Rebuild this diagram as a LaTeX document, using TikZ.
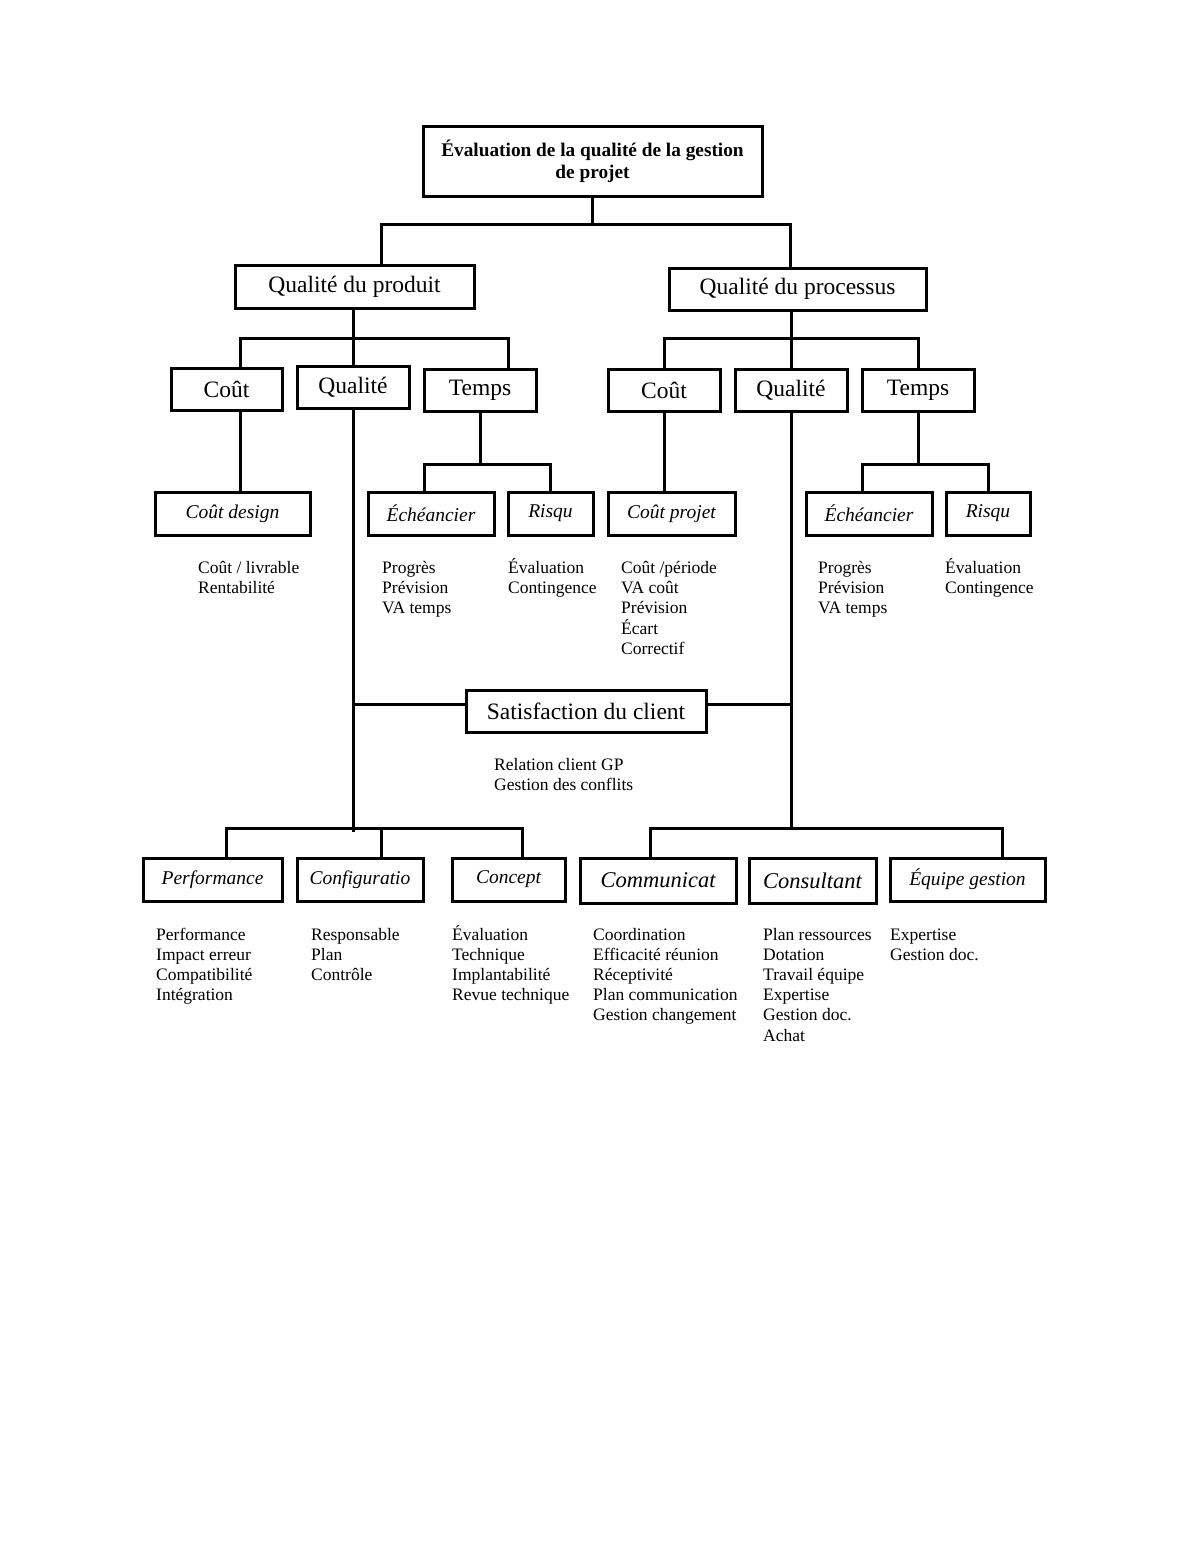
\documentclass[tikz,border=0pt]{standalone}
\usepackage{fontspec}
\setmainfont{Liberation Serif}
\newcommand{\lstlines}[1]{\begin{tabular}[t]{@{}l@{}}#1\end{tabular}}
\begin{document}
\begin{tikzpicture}[x=1pt,y=-1pt,
  box/.style={draw,line width=3pt,rectangle,inner sep=0pt,align=center,font=\fontsize{23.5}{27}\selectfont},
  ibox/.style={box,font=\fontsize{19.5}{23}\selectfont\itshape},
  bibox/.style={box,font=\fontsize{22.5}{26}\selectfont\itshape},
  tbox/.style={box,font=\fontsize{19.3}{22}\selectfont\bfseries},
  lst/.style={anchor=base west,inner sep=0pt,font=\fontsize{17.5}{20.2}\selectfont},
  conn/.style={line width=3pt}]
\useasboundingbox (0,0) rectangle (1200,1553);
% boxes
\node[tbox,minimum width=339pt,minimum height=70pt] (title) at (592.5,161) {Évaluation de la qualité de la gestion\\de projet};
\node[box,minimum width=239pt,minimum height=43pt] (qprod) at (354.5,286.5) {Qualité du produit};
\node[box,minimum width=257pt,minimum height=42pt] (qproc) at (797.5,289) {Qualité du processus};
\node[box,minimum width=111pt,minimum height=42pt] (coutL) at (226.5,389) {Coût};
\node[box,minimum width=112pt,minimum height=42pt] (qualL) at (353,387) {Qualité};
\node[box,minimum width=112pt,minimum height=42pt] (tempsL) at (480,390) {Temps};
\node[box,minimum width=112pt,minimum height=42pt] (coutR) at (664,390) {Coût};
\node[box,minimum width=112pt,minimum height=42pt] (qualR) at (791,390) {Qualité};
\node[box,minimum width=112pt,minimum height=42pt] (tempsR) at (918,390) {Temps};
\node[ibox,minimum width=155pt,minimum height=43pt] (coutdesign) at (232.5,513.5) {Coût design};
\node[ibox,minimum width=126pt,minimum height=43pt] (echL) at (431,513.5) {Échéancier};
\node[ibox,minimum width=85pt,minimum height=43pt] (risqL) at (550.5,513.5) {Risqu};
\node[ibox,minimum width=127pt,minimum height=43pt] (coutprojet) at (671.5,513.5) {Coût projet};
\node[ibox,minimum width=126pt,minimum height=43pt] (echR) at (869,513.5) {Échéancier};
\node[ibox,minimum width=84pt,minimum height=43pt] (risqR) at (988,513.5) {Risqu};
\node[box,minimum width=240pt,minimum height=42pt] (satis) at (586,711) {Satisfaction du client};
\node[ibox,minimum width=139pt,minimum height=43pt] (perf) at (212.5,879.5) {Performance};
\node[ibox,minimum width=126pt,minimum height=43pt] (config) at (360,879.5) {Configuratio};
\node[ibox,minimum width=113pt,minimum height=43pt] (concept) at (508.5,879.5) {Concept};
\node[bibox,minimum width=156pt,minimum height=45pt] (comm) at (658,880.5) {Communicat};
\node[bibox,minimum width=127pt,minimum height=45pt] (consult) at (812.5,880.5) {Consultant};
\node[ibox,minimum width=155pt,minimum height=43pt] (equipe) at (967.5,879.5) {Équipe gestion};
% junction coordinates
\coordinate (h1L) at (381,224);
\coordinate (h1R) at (790,224);
\coordinate (b2L) at (240,338);
\coordinate (e2L) at (508,338);
\coordinate (r2) at (0,338);
\coordinate (t1) at (424,464);
\coordinate (t2) at (550,464);
\coordinate (s1) at (862,464);
\coordinate (s2) at (988,464);
\coordinate (sy) at (0,704);
\coordinate (qLend) at (0,832);
\coordinate (qRend) at (0,828);
\coordinate (bl1) at (226,828);
\coordinate (bl2) at (381,828);
\coordinate (bl3) at (522,828);
\coordinate (br1) at (650,828);
\coordinate (br2) at (1002,828);
% connectors
\draw[conn] (title.south) -- (title.south |- h1L);
\draw[conn] (qprod.north -| h1L) |- (h1R) -- (qproc.north -| h1R);
\draw[conn] (coutL.north -| b2L) |- (e2L) -- (tempsL.north -| e2L);
\draw[conn] (qualL.north) -- (qualL.north |- qprod.south);
\draw[conn] (coutR.north) |- (tempsR.north |- r2) -- (tempsR.north);
\draw[conn] (qualR.north |- qproc.south) -- (qualR.north);
\draw[conn] (coutL.south -| b2L) -- (coutdesign.north -| b2L);
\draw[conn] (tempsL.south) -- (tempsL.south |- t1);
\draw[conn] (echL.north -| t1) |- (t2) -- (risqL.north -| t2);
\draw[conn] (coutR.south) -- (coutR.south |- coutprojet.north);
\draw[conn] (tempsR.south) -- (tempsR.south |- s1);
\draw[conn] (echR.north -| s1) |- (s2) -- (risqR.north -| s2);
\draw[conn] (qualL.south) -- (qualL.south |- qLend);
\draw[conn] (qualR.south) -- (qualR.south |- qRend);
\draw[conn] (satis.west |- sy) -- (qualL.south |- sy);
\draw[conn] (satis.east |- sy) -- (qualR.south |- sy);
\draw[conn] (perf.north -| bl1) |- (bl3) -- (concept.north -| bl3);
\draw[conn] (bl2) -- (config.north -| bl2);
\draw[conn] (comm.north -| br1) |- (br2) -- (equipe.north -| br2);
% lists
\node[lst] (l1) at (198,573) {\lstlines{Coût / livrable\\Rentabilité}};
\node[lst] (l2) at (382,573) {\lstlines{Progrès\\Prévision\\VA temps}};
\node[lst] (l3) at (508,573) {\lstlines{Évaluation\\Contingence}};
\node[lst] (l4) at (621,573) {\lstlines{Coût /période\\VA coût\\Prévision\\Écart\\Correctif}};
\node[lst] (l5) at (818,573) {\lstlines{Progrès\\Prévision\\VA temps}};
\node[lst] (l6) at (945,573) {\lstlines{Évaluation\\Contingence}};
\node[lst] (l7) at (494,770) {\lstlines{Relation client GP\\Gestion des conflits}};
\node[lst] (l8) at (156,940) {\lstlines{Performance\\Impact erreur\\Compatibilité\\Intégration}};
\node[lst] (l9) at (311,940) {\lstlines{Responsable\\Plan\\Contrôle}};
\node[lst] (l10) at (452,940) {\lstlines{Évaluation\\Technique\\Implantabilité\\Revue technique}};
\node[lst] (l11) at (593,940) {\lstlines{Coordination\\Efficacité réunion\\Réceptivité\\Plan communication\\Gestion changement}};
\node[lst] (l12) at (763,940) {\lstlines{Plan ressources\\Dotation\\Travail équipe\\Expertise\\Gestion doc.\\Achat}};
\node[lst] (l13) at (890,940) {\lstlines{Expertise\\Gestion doc.}};
\end{tikzpicture}
\end{document}
